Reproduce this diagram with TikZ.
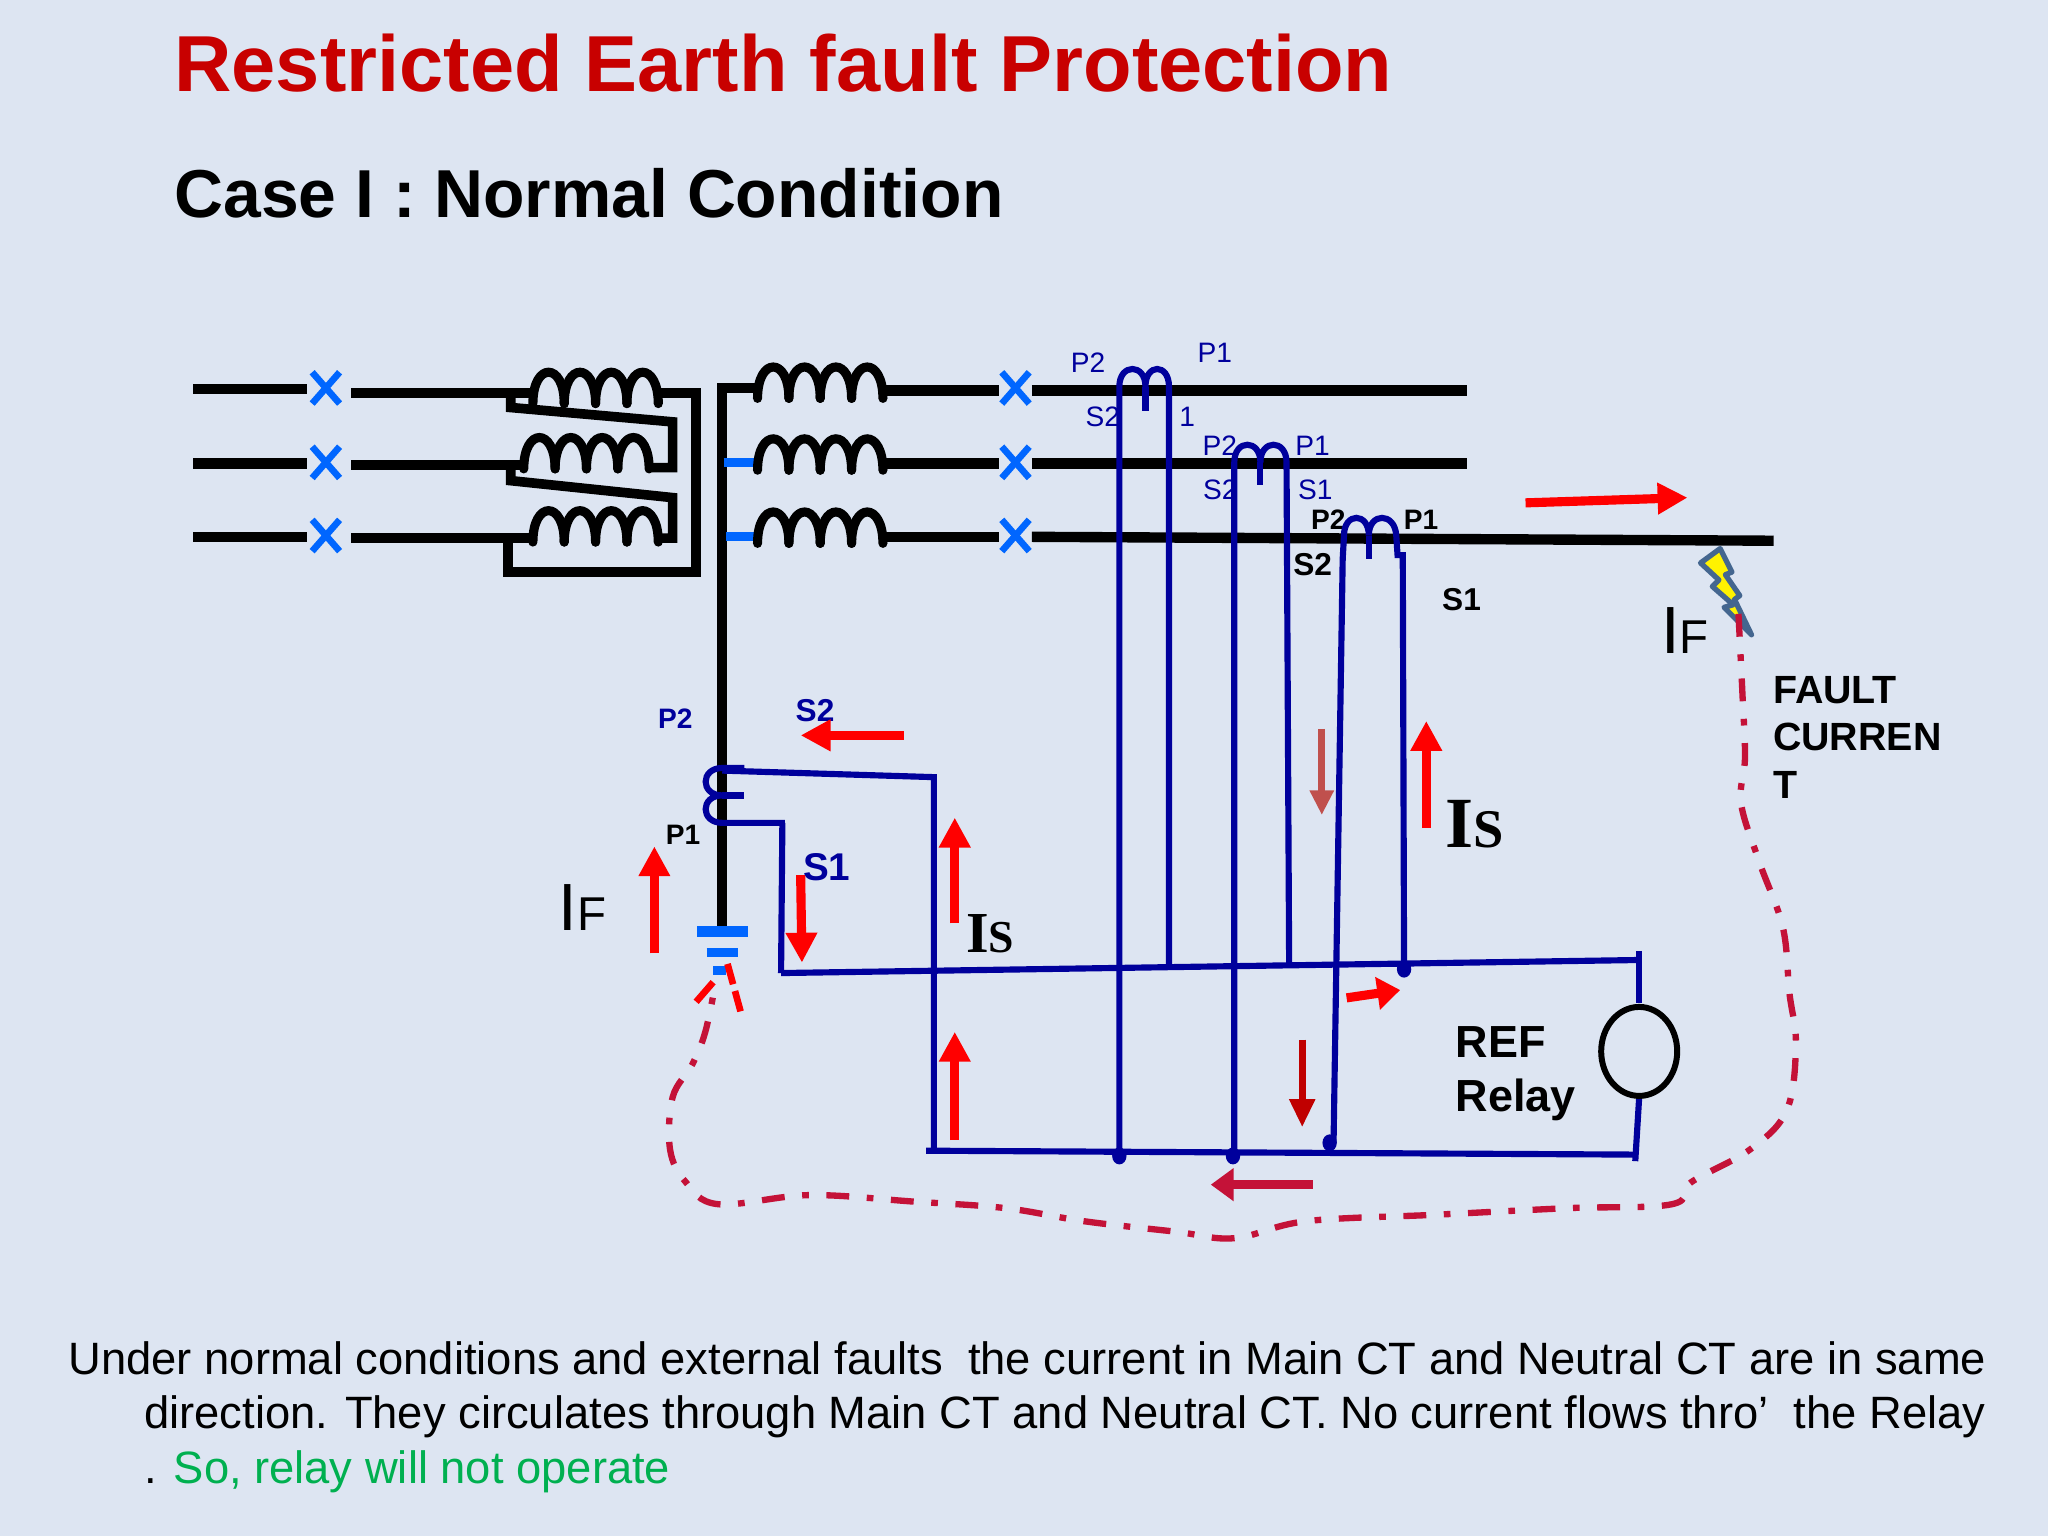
\documentclass[tikz,border=0pt]{standalone}
\usepackage{fontspec}
\setmainfont{Liberation Sans}
\newfontfamily\timesfont{Liberation Serif}
\usetikzlibrary{arrows.meta,shapes.geometric}
\definecolor{slidebg}{RGB}{221,229,242}
\definecolor{titlered}{RGB}{200,0,0}
\definecolor{ctblue}{RGB}{0,0,156}
\definecolor{xblue}{RGB}{0,102,255}
\definecolor{faultred}{RGB}{196,18,56}
\definecolor{boltedge}{RGB}{68,102,143}
\definecolor{okgreen}{RGB}{0,176,80}
\tikzset{
    bus/.style={line width=2.95pt},
    wire/.style={line width=1.75pt, ctblue},
    coilline/.style={line width=2.6pt, line cap=round},
    flow/.style={line width=2.6pt, red, -{Triangle[length=8.5pt,width=8.5pt]}},
    lbl/.style={font=\fontsize{8}{10}\selectfont, ctblue, inner sep=0pt},
    blbl/.style={font=\fontsize{8}{10}\selectfont\bfseries, inner sep=0pt},
    bblbl/.style={font=\fontsize{9}{11}\selectfont\bfseries, inner sep=0pt},
    ifl/.style={inner sep=0pt},
    bartop/.style={line width=3pt, xblue},
    pen/.style={line width=1.9pt, xblue},
    note/.style={anchor=base west, inner sep=0pt, font=\fontsize{12.9}{15}\selectfont}
}
% one hump after the other, from the left end
\newcommand{\humps}[3]{
    \foreach \k in {0,...,3} {
        \draw[coilline] ({#1+\k*#3},#2+8) .. controls ({#1+\k*#3},#2-24) and ({#1+(\k+1)*#3},#2-24) .. ({#1+(\k+1)*#3},#2+8);
    }
}
\begin{document}
\begin{tikzpicture}[x=0.013061cm, y=-0.013061cm]
    \useasboundingbox (0,0) rectangle (1568,1176);
    \fill[slidebg] (0,0) rectangle (1568,1176);

    % Titles
    \node[anchor=west, inner sep=0pt, font=\fontsize{22.6}{26}\selectfont\bfseries, titlered] (title) at (133,48) {Restricted Earth fault Protection};
    \node[anchor=west, inner sep=0pt, font=\fontsize{19.3}{22}\selectfont\bfseries] (subtitle) at (133,148) {Case I : Normal Condition};

    % Incoming lines and breakers
    \foreach \y in {298,355,411} {
        \draw[bus] (148,\y) -- (235,\y);
    }
    \foreach \y in {297,354,410} {
        \draw[pen] (239,\y-12) -- (260,\y+12);
        \draw[pen] (260,\y-12) -- (239,\y+12);
        \draw[pen] (767,\y-12) -- (788,\y+12);
        \draw[pen] (788,\y-12) -- (767,\y+12);
    }

    % Delta side of the transformer
    \draw[bus] (269,301) -- (408,301);
    \draw[bus] (269,356) -- (401,356);
    \draw[bus] (269,412) -- (410,412);
    \humps{408}{301}{24}
    \humps{401}{351}{24}
    \humps{408}{407}{24}
    \draw[bus] (505,301) -- (533,301) -- (533,438) -- (389,438) -- (389,412);
    \draw[line width=2.75pt] (391,301) -- (391,312) -- (515,323) -- (515,358) -- (499,358);
    \draw[line width=2.75pt] (391,356) -- (391,368) -- (515,381) -- (515,412) -- (504,412);

    % Star side and neutral
    \draw[line width=2.75pt] (553,710) -- (553,297) -- (581,297);
    \draw[line width=2.6pt, xblue] (554,354) -- (581,354);
    \draw[line width=2.6pt, xblue] (556,411) -- (581,411);
    \foreach \y in {297,352,408} {
        \humps{580}{\y}{24}
    }
    \foreach \y in {299,355,411} {
        \draw[bus] (676,\y) -- (765,\y);
    }
    \draw[bus] (790,299) -- (1123,299);
    \draw[bus] (790,355) -- (1123,355);
    \draw[bus] (790,411) -- (1358,414);

    % Earth symbol
    \draw[bartop] (534,713) -- (573,713);
    \draw[line width=2.6pt, xblue] (541,729) -- (565,729);
    \draw[line width=2.6pt, xblue] (546,743) -- (556,743);

    % CT terminals, the wires run over them
    \node[lbl] (ca) at (833,278) {P2};
    \node[lbl] (cb) at (930,270) {P1};
    \node[lbl, anchor=east] (cc) at (858,319) {S2};
    \node[lbl] (cd) at (909,319) {1};
    \node[lbl] (ce) at (934,341) {P2};
    \node[lbl] (cf) at (1005,341) {P1};
    \node[lbl, anchor=east] (cg) at (948,375) {S2};
    \node[lbl] (ch) at (1007,375) {S1};
    \node[blbl] (ci) at (1017,398) {P2};
    \node[blbl] (cj) at (1088,398) {P1};
    \node[bblbl] (ck) at (1005,432) {S2};
    \node[bblbl] (cl) at (1119,459) {S1};
    \node[blbl, ctblue] (na) at (517,550) {P2};
    \node[bblbl, ctblue] (nb) at (624,544) {S2};
    \node[blbl] (nc) at (523,639) {P1};
    \node[blbl, ctblue, font=\fontsize{11}{13}\selectfont\bfseries] (nd) at (633,664) {S1};

    % Line CTs
    \draw[wire] (857,885) -- (857,296) .. controls (857,278) and (877,278) .. (877,296) .. controls (877,278) and (895,278) .. (895,296) -- (895,742);
    \draw[wire] (877,296) -- (877,315);
    \draw[wire] (945,885) -- (945,354) .. controls (945,336) and (965,336) .. (965,354) .. controls (965,336) and (985,336) .. (985,354) -- (987,738);
    \draw[wire] (965,354) -- (965,371);
    \draw[wire] (1021,875) -- (1028,428) -- (1029,410) .. controls (1029,392) and (1048,392) .. (1048,410) .. controls (1048,392) and (1068,392) .. (1069,410) -- (1070,425) -- (1074,425) -- (1075,742);
    \draw[wire] (1048,410) -- (1048,428);

    % Neutral CT and the relay circuit
    \draw[wire] (570,588) -- (553,588) .. controls (536,588) and (536,609) .. (553,609) .. controls (536,609) and (536,630) .. (553,630) -- (601,630);
    \draw[wire] (553,609) -- (570,609);
    \draw[wire] (553,590) -- (715,595) -- (715,881);
    \draw[wire] (599,630) -- (598,745);
    \draw[wire] (598,745) -- (1255,735);
    \draw[wire] (1255,728) -- (1255,768);
    \draw[wire] (709,881) -- (1252,884);
    \draw[wire] (1252,889) -- (1255,840);
    \node[draw, ellipse, line width=1.7pt, minimum width=0.76cm, minimum height=0.89cm, inner sep=0pt] (relay) at (1255,805) {};
    \foreach \x/\y in {857/885, 944/885, 1018/875, 1075/742} {
        \fill[ctblue] (\x,\y) ellipse (5.5 and 6.5);
    }

    % Fault bolt
    \draw[line width=1.5pt, boltedge, fill=yellow, line join=round] (1317,420) -- (1302,431) -- (1316,444) -- (1311,449) -- (1327,463) -- (1320,465) -- (1341,486) -- (1328,459) -- (1332,456) -- (1321,440) -- (1326,438) -- cycle;

    % Path of the fault current
    \draw[line width=1.8pt, faultred, dash pattern=on 6.5pt off 5pt on 1.9pt off 5pt]
        plot[smooth, tension=0.6] coordinates {(1331,470) (1334,530) (1336,580) (1333,615) (1347,660) (1365,710) (1370,760) (1375,800) (1368,850) (1340,880) (1295,905) (1280,922) (1200,925) (1100,930) (1000,935) (945,948) (900,943) (830,935) (770,925) (700,920) (620,915) (550,922) (525,905) (513,880) (515,840) (530,815) (540,790) (548,752)};
    \draw[line width=1.9pt, red] (533,767) -- (546,752);
    \draw[line width=1.9pt, red, dash pattern=on 6pt off 2pt] (557,738) -- (568,778);

    % Current arrows
    \draw[flow] (1168,385) -- (1292,381);
    \draw[flow] (692,563) -- (613,563);
    \draw[flow] (501,730) -- (501,648);
    \draw[flow] (613,670) -- (614,737);
    \draw[flow] (731,707) -- (731,626);
    \draw[flow] (731,873) -- (731,790);
    \draw[flow] (1092,634) -- (1092,552);
    \draw[line width=2pt, color={rgb,255:red,192;green,80;blue,77}, -{Triangle[length=7pt,width=6.5pt]}] (1012,558) -- (1012,624);
    \draw[line width=1.9pt, color={rgb,255:red,192;green,0;blue,0}, -{Triangle[length=8pt,width=7pt]}] (997,796) -- (997,863);
    \draw[line width=2.6pt, red, -{Triangle[length=6.5pt,width=9pt]}] (1031,764) -- (1072,758);
    \draw[line width=2.6pt, faultred, -{Triangle[length=6.5pt,width=9pt]}] (1005,907) -- (927,907);

    % Current names
    \node[ifl] (ifa) at (446,695) {\fontsize{19}{19}\selectfont I\fontsize{13.5}{13.5}\selectfont F};
    \node[ifl] (ifb) at (1290,483) {\fontsize{19}{19}\selectfont I\fontsize{13.5}{13.5}\selectfont F};
    \node[ifl, font=\timesfont\bfseries] (isa) at (758,715) {\fontsize{16.5}{17}\selectfont I\fontsize{13}{13}\selectfont S};
    \node[ifl, font=\timesfont\bfseries] (isb) at (1129,631) {\fontsize{20.5}{21}\selectfont I\fontsize{15.5}{16}\selectfont S};

    % Relay and fault names
    \node[anchor=west, inner sep=0pt, font=\fontsize{12.8}{15.6}\selectfont\bfseries, align=left] (refname) at (1114,822) {REF\\[0pt]Relay};
    \node[anchor=north west, inner sep=0pt, font=\fontsize{11.2}{13.6}\selectfont\bfseries, align=left] (faultname) at (1357,517) {FAULT\\CURREN\\T};

    % Note under the circuit
    \node[note] (notea) at (52,1052) {Under normal conditions and external faults\ \ the current in Main CT and Neutral CT are in same};
    \node[note] (noteb) at (110,1094) {direction. They circulates through Main CT and Neutral CT. No current flows thro’\ \ the Relay};
    \node[note] (notec) at (110,1136) {. \textcolor{okgreen}{So, relay will not operate}};
\end{tikzpicture}
\end{document}
